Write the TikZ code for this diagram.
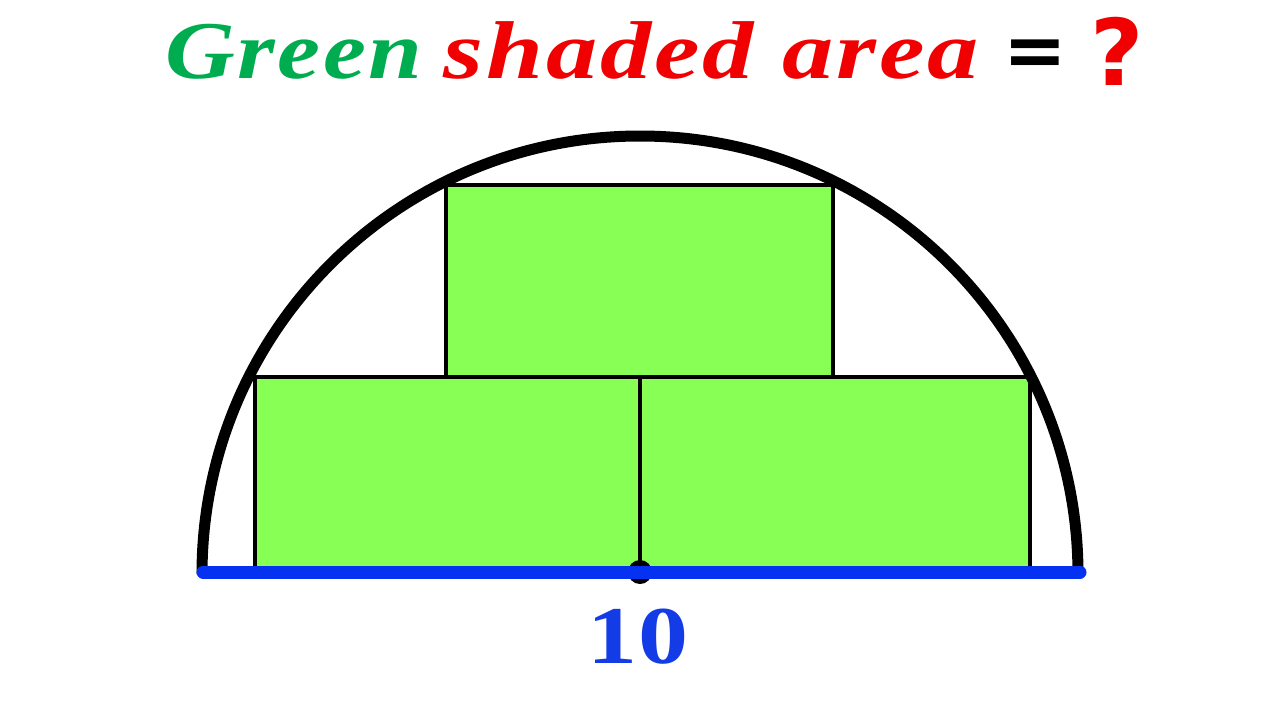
\documentclass[tikz,border=0pt]{standalone}
\usepackage{fontspec}
\setmainfont{Liberation Serif}
\newfontfamily\greenfont[LetterSpace=3,FakeStretch=1.18]{Liberation Serif}
\newfontfamily\redfont[LetterSpace=3.5,FakeStretch=1.25]{Liberation Serif}
\newfontfamily\numfont[FakeStretch=1.22]{Liberation Serif}
\newfontfamily\symfont{DejaVu Sans}
\definecolor{tgreen}{RGB}{0,172,80}
\definecolor{tred}{RGB}{240,0,0}
\definecolor{fillg}{RGB}{136,255,85}
\definecolor{lblue}{RGB}{5,50,240}
\definecolor{nblue}{RGB}{20,60,230}
\begin{document}
\begin{tikzpicture}[x=0.5pt,y=0.5pt,
  brick/.style={fill=fillg,draw=black,line width=2.2pt},
  titletxt/.style={inner sep=0pt,anchor=base west}]
\useasboundingbox (0,0) rectangle (1280,720);
% rectangles
\coordinate (bl1) at (255,148);
\coordinate (tr1) at (640,343);
\coordinate (bl2) at (640,148);
\coordinate (tr2) at (1030,343);
\coordinate (bl3) at (446,343);
\coordinate (tr3) at (833,535);
\draw[brick] (bl1) rectangle (tr1);
\draw[brick] (bl2) rectangle (tr2);
\draw[brick] (bl3) rectangle (tr3);
% semicircle
\coordinate (la) at (202,146);
\draw[line width=5.5pt] (la) arc[start angle=180,end angle=0,radius=438];
% centre dot and base
\coordinate (c) at (640,148);
\fill[black] (c) circle[radius=12];
\coordinate (bA) at (203,148);
\coordinate (bB) at (1080,148);
\draw[lblue,line width=6.5pt,line cap=round] (bA) -- (bB);
% labels
\node[inner sep=0pt,anchor=base,text=nblue,font=\numfont\fontsize{41}{44}\selectfont\bfseries] (ten) at (638,57) {10};
\node[titletxt,text=tgreen,font=\greenfont\fontsize{41}{46}\selectfont\bfseries\itshape] (g) at (165,642) {Green};
\node[titletxt,text=tred,font=\redfont\fontsize{41}{46}\selectfont\bfseries\itshape] (s) at (443,642) {shaded area};
\node[inner sep=0pt,anchor=base west,font=\symfont\fontsize{38}{44}\selectfont\bfseries] (eq) at (1003,644) {=};
\node[inner sep=0pt,anchor=base west,text=tred,font=\symfont\fontsize{46}{52}\selectfont\bfseries] (q) at (1090,635) {?};
\end{tikzpicture}
\end{document}
